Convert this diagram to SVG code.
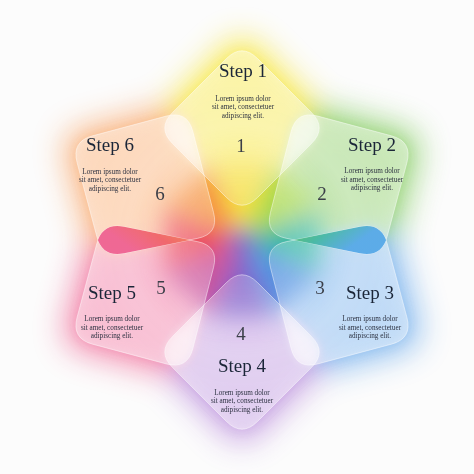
<svg xmlns="http://www.w3.org/2000/svg" width="474" height="474" viewBox="0 0 474 474">
<style>
.t{font-family:"Liberation Serif","Times New Roman",serif;text-anchor:middle}
.h{font-size:19px;fill:#1b2638}
.b{font-size:7.2px;fill:#2c3140}
.n{font-size:19px;fill:#3b3f48}
.petal{fill:url(#frost);stroke:#ffffff;stroke-opacity:0.45;stroke-width:1}
.wov{fill:#ffffff;opacity:0.4}
</style>
<defs>
<filter id="blur" x="-40%" y="-40%" width="180%" height="180%"><feGaussianBlur stdDeviation="16"/></filter>
<filter id="blurS" x="-40%" y="-40%" width="180%" height="180%"><feGaussianBlur stdDeviation="5"/></filter>
<filter id="blurC" x="-50%" y="-50%" width="200%" height="200%"><feGaussianBlur stdDeviation="11"/></filter>
<filter id="blurW" x="-50%" y="-50%" width="200%" height="200%"><feGaussianBlur stdDeviation="4"/></filter>
<radialGradient id="frost" gradientUnits="userSpaceOnUse" cx="242" cy="240" r="210">
<stop offset="0" stop-color="#fff" stop-opacity="0.1"/>
<stop offset="0.3" stop-color="#fff" stop-opacity="0.3"/>
<stop offset="0.55" stop-color="#fff" stop-opacity="0.48"/>
<stop offset="1" stop-color="#fff" stop-opacity="0.4"/>
</radialGradient>
<linearGradient id="g23" gradientUnits="userSpaceOnUse" x1="300" y1="220" x2="330" y2="262">
<stop offset="0" stop-color="#62bf5c"/><stop offset="0.5" stop-color="#3fb5a0"/><stop offset="1" stop-color="#4ea4e6"/>
</linearGradient>
<linearGradient id="g56" gradientUnits="userSpaceOnUse" x1="180" y1="220" x2="150" y2="262">
<stop offset="0" stop-color="#f38a55"/><stop offset="0.5" stop-color="#ef5e62"/><stop offset="1" stop-color="#ee5a8c"/>
</linearGradient>
<path id="p1" d="M257.6,197.4 L311.4,143.6 Q327,128 311.4,112.4 L257.6,58.6 Q242,43 226.4,58.6 L172.6,112.4 Q157,128 172.6,143.6 L226.4,197.4 Q242,213 257.6,197.4Z"/>
<path id="p2" d="M286.6,238.4 L359.9,253.2 Q381.5,257.6 387.2,236.4 L406.9,162.8 Q412.6,141.5 391.4,135.8 L317.8,116.1 Q296.5,110.4 291.1,131.7 L270.4,212.7 Q265,234 286.6,238.4Z"/>
<path id="p3" d="M286.6,241.6 L359.9,226.8 Q381.5,222.4 387.2,243.6 L406.9,317.2 Q412.6,338.5 391.4,344.2 L317.8,363.9 Q296.5,369.6 291.1,348.3 L270.4,267.3 Q265,246 286.6,241.6Z"/>
<path id="p4" d="M257.6,282.6 L311.4,336.4 Q327,352 311.4,367.6 L257.6,421.4 Q242,437 226.4,421.4 L172.6,367.6 Q157,352 172.6,336.4 L226.4,282.6 Q242,267 257.6,282.6Z"/>
<path id="p5" d="M197.4,241.6 L124.1,226.8 Q102.5,222.4 96.8,243.6 L77.1,317.2 Q71.4,338.5 92.6,344.2 L166.2,363.9 Q187.5,369.6 192.9,348.3 L213.6,267.3 Q219,246 197.4,241.6Z"/>
<path id="p6" d="M197.4,238.4 L124.1,253.2 Q102.5,257.6 96.8,236.4 L77.1,162.8 Q71.4,141.5 92.6,135.8 L166.2,116.1 Q187.5,110.4 192.9,131.7 L213.6,212.7 Q219,234 197.4,238.4Z"/>
<clipPath id="c1"><use href="#p1"/></clipPath>
<clipPath id="c2"><use href="#p2"/></clipPath>
<clipPath id="c4"><use href="#p4"/></clipPath>
<clipPath id="c6"><use href="#p6"/></clipPath>
</defs>

<rect width="474" height="474" fill="#fcfcfc"/>

<g id="glow" filter="url(#blur)" opacity="0.95">
<use href="#p1" fill="#f7e84a" transform="translate(0,-12)"/>
<use href="#p2" fill="#8fd070" transform="translate(10.5,-6)"/>
<use href="#p3" fill="#7fb6ee" transform="translate(10.5,6)"/>
<use href="#p4" fill="#c29ae0" transform="translate(0,12)"/>
<use href="#p5" fill="#f27fa6" transform="translate(-10.5,6)"/>
<use href="#p6" fill="#f9b07a" transform="translate(-10.5,-6)"/>
</g>
<g id="tint" filter="url(#blurS)" opacity="0.55">
<use href="#p1" fill="#f8ec70"/>
<use href="#p2" fill="#a6d886"/>
<use href="#p3" fill="#96c2f0"/>
<use href="#p4" fill="#cbaee6"/>
<use href="#p5" fill="#f494b6"/>
<use href="#p6" fill="#fbbf8e"/>
</g>

<g id="center" filter="url(#blurC)" opacity="0.95">
<polygon points="242,240 274.5,161.5 209.5,161.5" fill="#f5de3a"/>
<polygon points="242,240 209.5,161.5 163.5,207.5" fill="#f5903c"/>
<polygon points="242,240 163.5,207.5 163.5,272.5" fill="#ec4a5a"/>
<polygon points="242,240 163.5,272.5 209.5,318.5" fill="#c8509a"/>
<polygon points="242,240 209.5,318.5 274.5,318.5" fill="#7a5ac8"/>
<polygon points="242,240 274.5,318.5 320.5,272.5" fill="#4f8fe0"/>
<polygon points="242,240 320.5,272.5 320.5,207.5" fill="#30b8a0"/>
<polygon points="242,240 320.5,207.5 274.5,161.5" fill="#a8d848"/>
<circle cx="242" cy="242" r="14" fill="#7f68c8"/>
</g>

<g id="step1">
<use href="#p1" class="petal"/>
<text class="t h" x="243" y="77">Step 1</text>
<text class="t b" x="243" y="100.5">Lorem ipsum dolor</text>
<text class="t b" x="243" y="109">sit amet, consectetuer</text>
<text class="t b" x="243" y="117.5">adipiscing elit.</text>
<text class="t n" x="241" y="152">1</text>
</g>
<g id="step2">
<use href="#p2" class="petal"/>
<text class="t h" x="372" y="151">Step 2</text>
<text class="t b" x="372" y="173">Lorem ipsum dolor</text>
<text class="t b" x="372" y="181.5">sit amet, consectetuer</text>
<text class="t b" x="372" y="190">adipiscing elit.</text>
<text class="t n" x="322" y="200">2</text>
</g>
<g id="step3">
<use href="#p3" class="petal"/>
<text class="t h" x="370" y="299">Step 3</text>
<text class="t b" x="370" y="321">Lorem ipsum dolor</text>
<text class="t b" x="370" y="329.5">sit amet, consectetuer</text>
<text class="t b" x="370" y="338">adipiscing elit.</text>
<text class="t n" x="320" y="294">3</text>
</g>
<g id="step4">
<use href="#p4" class="petal"/>
<text class="t h" x="242" y="372">Step 4</text>
<text class="t b" x="242" y="394.5">Lorem ipsum dolor</text>
<text class="t b" x="242" y="403">sit amet, consectetuer</text>
<text class="t b" x="242" y="411.5">adipiscing elit.</text>
<text class="t n" x="241" y="340">4</text>
</g>
<g id="step5">
<use href="#p5" class="petal"/>
<text class="t h" x="112" y="299">Step 5</text>
<text class="t b" x="112" y="321">Lorem ipsum dolor</text>
<text class="t b" x="112" y="329.5">sit amet, consectetuer</text>
<text class="t b" x="112" y="338">adipiscing elit.</text>
<text class="t n" x="161" y="294">5</text>
</g>
<g id="step6">
<use href="#p6" class="petal"/>
<text class="t h" x="110" y="151">Step 6</text>
<text class="t b" x="110" y="173.5">Lorem ipsum dolor</text>
<text class="t b" x="110" y="182">sit amet, consectetuer</text>
<text class="t b" x="110" y="190.5">adipiscing elit.</text>
<text class="t n" x="160" y="200">6</text>
</g>

<g id="overlaps">
<g filter="url(#blurW)">
<use href="#p2" class="wov" clip-path="url(#c1)"/>
<use href="#p6" class="wov" clip-path="url(#c1)"/>
<use href="#p3" class="wov" clip-path="url(#c4)"/>
<use href="#p5" class="wov" clip-path="url(#c4)"/>
</g>
<use href="#p3" fill="url(#g23)" clip-path="url(#c2)" opacity="0.9"/>
<use href="#p5" fill="url(#g56)" clip-path="url(#c6)" opacity="0.9"/>
</g>
</svg>
